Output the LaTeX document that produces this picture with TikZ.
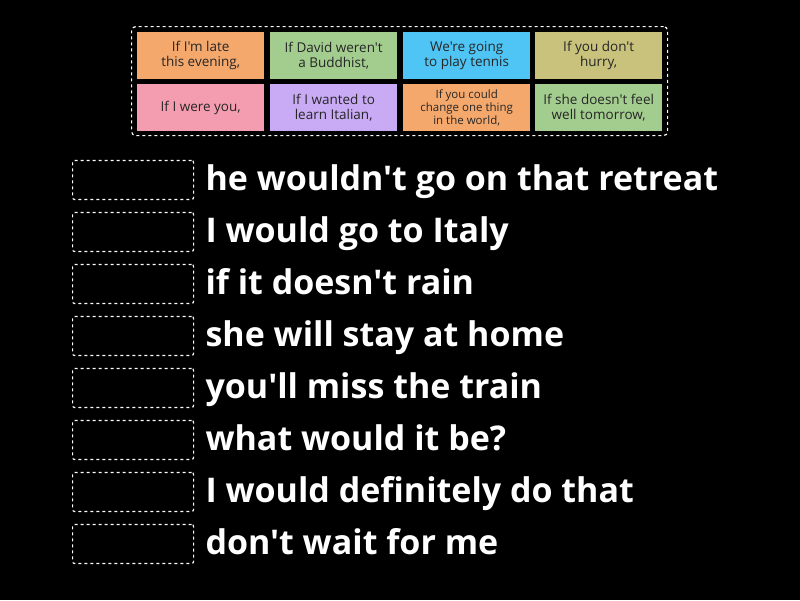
\documentclass[tikz,border=0pt]{standalone}
\usepackage{fontspec}
\setmainfont{Open Sans}[Ligatures=TeXReset]
\newcommand\ap{\char39\relax}
\begin{document}
\begin{tikzpicture}[x=1pt,y=-1pt,
 tile/.style={minimum width=127pt,minimum height=47pt,anchor=north west,inner sep=1pt,align=center,font=\fontsize{13.5}{15.5}\selectfont,text=black!85},
 slot/.style={draw=white,dashed,line width=1.2pt,rounded corners=2pt,minimum width=121pt,minimum height=39pt,anchor=west},
 ans/.style={anchor=base west,text=white,font=\fontsize{34}{36}\selectfont\bfseries}]
\definecolor{c1}{HTML}{F5A86C}\definecolor{c2}{HTML}{A3CD8F}\definecolor{c3}{HTML}{4EC5F5}
\definecolor{c4}{HTML}{C9C27C}\definecolor{c5}{HTML}{F59DB0}\definecolor{c6}{HTML}{C9AAF5}
\fill[black] (0,0) rectangle (800,600);
\useasboundingbox (0,0) rectangle (800,600);
\node[draw=white,dashed,line width=1.2pt,rounded corners=4pt,minimum width=536pt,minimum height=109pt,anchor=north west] (frame) at (131,26) {};
\node[tile,fill=c1] (t1) at (137,32) {If I\ap m late\\this evening,};
\node[tile,fill=c2] (t2) at (270,32) {If David weren\ap t\\a Buddhist,};
\node[tile,fill=c3] (t3) at (403,32) {We\ap re going\\to play tennis};
\node[tile,fill=c4] (t4) at (535,32) {If you don\ap t\\hurry,};
\node[tile,fill=c5] (t5) at (137,84) {If I were you,};
\node[tile,fill=c6] (t6) at (270,84) {If I wanted to\\learn Italian,};
\node[tile,fill=c1,font=\fontsize{11.5}{13}\selectfont] (t7) at (403,84) {If you could\\change one thing\\in the world,};
\node[tile,fill=c2] (t8) at (535,84) {If she doesn\ap t feel\\well tomorrow,};
\foreach \i/\t in {0/he wouldn\ap t go on that retreat,1/I would go to Italy,2/if it doesn\ap t rain,3/she will stay at home,4/you\ap ll miss the train,5/what would it be?,6/I would definitely do that,7/don\ap t wait for me}{
 \node[slot] (s\i) at (72,180+52*\i) {};
 \node[ans] (a\i) at (202,190+52*\i) {\t};
}
\end{tikzpicture}
\end{document}
